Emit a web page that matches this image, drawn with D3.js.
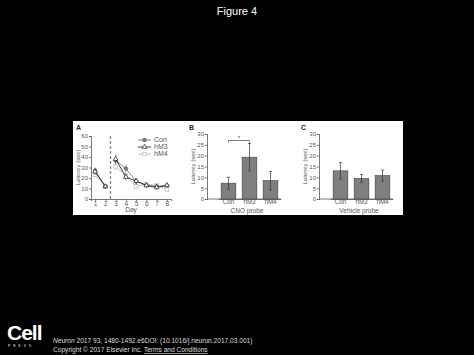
<!DOCTYPE html>
<html>
<head>
<meta charset="utf-8">
<script src="https://cdn.jsdelivr.net/npm/d3@7"></script>
<style>
  body { margin: 0; background: #000; }
  svg { display: block; font-family: 'Liberation Sans', Arial, sans-serif; }
</style>
</head>
<body>
<svg id="fig" width="474" height="355"></svg>
<script>
// panel A: latency per day
const days = [1, 2, 3, 4, 5, 6, 7, 8];
const conMean = [27, 12, 37, 29, 17, 13, 12, 13];
const conErr = [3, 1.5, 4, 4, 3, 2, 2, 2];
const hm3Mean = [26, 12, 38, 21, 17, 13, 11, 13];
const hm3Err = [3, 1.5, 4, 3, 3, 2, 2, 2];
const hm4Mean = [23, 12, 31, 22, 12, 14, 13, 9];
const hm4Err = [3, 1.5, 4, 3, 3, 2, 2, 2];
const groups = ['Con', 'hM3', 'hM4'];
// panel B / C
const cnoMean = [7.3, 19.3, 8.5];
const cnoErr = [2.7, 6.3, 4.2];
const vehMean = [13, 9.5, 10.8];
const vehErr = [3.8, 1.8, 2.5];
const yTicksA = [0, 10, 20, 30, 40, 50, 60];
const yTicksB = [0, 5, 10, 15, 20, 25, 30];

const svg = d3.select('#fig');
const ink = '#555';

svg.append('text')
  .attr('x', 237).attr('y', 15)
  .attr('text-anchor', 'middle')
  .attr('fill', '#fff')
  .attr('font-size', 11)
  .text('Figure 4');

// white figure panel
svg.append('rect')
  .attr('x', 73).attr('y', 121)
  .attr('width', 330).attr('height', 94)
  .attr('fill', '#fff');

function styleAxis(g) {
  g.selectAll('path,line').attr('stroke', ink).attr('stroke-width', 0.8);
  g.selectAll('text').attr('fill', ink).attr('font-size', 6);
}

function panelLabel(x, y, t) {
  svg.append('text')
    .attr('x', x).attr('y', y)
    .attr('font-size', 7).attr('font-weight', 'bold')
    .attr('fill', '#222')
    .text(t);
}

// ---- Panel A ----
const xA = d3.scaleLinear().domain([0.6, 8.4]).range([91, 171]);
const yA = d3.scaleLinear().domain([0, 60]).range([199, 136]);

const gA = svg.append('g');
gA.append('g')
  .attr('transform', 'translate(0,199)')
  .call(d3.axisBottom(xA).tickValues(days).tickSize(2).tickPadding(0.5).tickFormat(d3.format('d')))
  .call(styleAxis)
  .call((a) => a.selectAll('text').attr('font-size', 6.5));
gA.append('g')
  .attr('transform', 'translate(91,0)')
  .call(d3.axisLeft(yA).tickValues(yTicksA).tickSize(2).tickPadding(1))
  .call(styleAxis);

gA.append('line')
  .attr('x1', xA(2.5)).attr('x2', xA(2.5))
  .attr('y1', yA(60)).attr('y2', yA(0))
  .attr('stroke', '#888').attr('stroke-width', 1.3)
  .attr('stroke-dasharray', '3,2');

const seriesA = [
  { name: 'hM4', mean: hm4Mean, err: hm4Err, color: '#bbb', shape: 'square' },
  { name: 'Con', mean: conMean, err: conErr, color: '#777', shape: 'circle' },
  { name: 'hM3', mean: hm3Mean, err: hm3Err, color: '#222', shape: 'triangle' },
];

const line = d3.line().x((d) => xA(d.day)).y((d) => yA(d.v));

function drawMarker(g, shape, x, y, color) {
  if (shape === 'circle') {
    g.append('circle').attr('cx', x).attr('cy', y).attr('r', 1.8)
      .attr('fill', color).attr('stroke', color);
  } else if (shape === 'triangle') {
    g.append('path').attr('d', d3.symbol(d3.symbolTriangle, 10)())
      .attr('transform', `translate(${x},${y})`)
      .attr('fill', '#fff').attr('stroke', color).attr('stroke-width', 0.7);
  } else {
    g.append('rect').attr('x', x - 1.8).attr('y', y - 1.8).attr('width', 3.6).attr('height', 3.6)
      .attr('fill', '#fff').attr('stroke', color).attr('stroke-width', 0.7);
  }
}

seriesA.forEach((s) => {
  const pts = days.map((d, i) => ({ day: d, v: s.mean[i], e: s.err[i] }));
  const segs = [pts.slice(0, 2), pts.slice(2)];
  segs.forEach((seg) => {
    gA.append('path').datum(seg)
      .attr('d', line)
      .attr('fill', 'none')
      .attr('stroke', s.color)
      .attr('stroke-width', 0.9);
  });
  pts.forEach((p) => {
    gA.append('line')
      .attr('x1', xA(p.day)).attr('x2', xA(p.day))
      .attr('y1', yA(p.v - p.e)).attr('y2', yA(p.v + p.e))
      .attr('stroke', s.color).attr('stroke-width', 0.6);
    drawMarker(gA, s.shape, xA(p.day), yA(p.v), s.color);
  });
});

// legend
const legendOrder = ['Con', 'hM3', 'hM4'];
legendOrder.forEach((name, i) => {
  const s = seriesA.find((d) => d.name === name);
  const y = 140 + i * 7;
  gA.append('line').attr('x1', 138).attr('x2', 151).attr('y1', y).attr('y2', y)
    .attr('stroke', s.color).attr('stroke-width', 0.9);
  drawMarker(gA, s.shape, 144.5, y, s.color);
  gA.append('text').attr('x', 154).attr('y', y + 2.3)
    .attr('font-size', 7).attr('fill', ink).text(name);
});

gA.append('text')
  .attr('transform', `translate(80,${yA(30)}) rotate(-90)`)
  .attr('text-anchor', 'middle').attr('font-size', 6).attr('fill', ink)
  .text('Latency (sec)');
gA.append('text')
  .attr('x', xA(4.5)).attr('y', 212)
  .attr('text-anchor', 'middle').attr('font-size', 6.5).attr('fill', ink)
  .text('Day');
panelLabel(76, 130, 'A');

// ---- Bar panels ----
function barPanel(x0, means, errs, title, label) {
  const x = d3.scaleBand().domain(groups).range([x0 + 11, x0 + 74]).paddingInner(0.3).paddingOuter(0.15);
  const y = d3.scaleLinear().domain([0, 30]).range([199, 134]);
  const g = svg.append('g');
  g.append('g')
    .attr('transform', 'translate(0,199)')
    .call(d3.axisBottom(x).tickSize(0).tickPadding(0.8))
    .call(styleAxis)
    .call((a) => a.selectAll('text').attr('font-size', 6.3));
  g.append('g')
    .attr('transform', `translate(${x0},0)`)
    .call(d3.axisLeft(y).tickValues(yTicksB).tickSize(2).tickPadding(1))
    .call(styleAxis);
  g.append('line').attr('x1', x0).attr('x2', x0 + 74).attr('y1', 199).attr('y2', 199)
    .attr('stroke', ink).attr('stroke-width', 0.8);
  groups.forEach((k, i) => {
    g.append('rect')
      .attr('x', x(k)).attr('y', y(means[i]))
      .attr('width', x.bandwidth()).attr('height', y(0) - y(means[i]))
      .attr('fill', '#7f7f7f').attr('stroke', '#444').attr('stroke-width', 0.6);
    const cx = x(k) + x.bandwidth() / 2;
    g.append('line')
      .attr('x1', cx).attr('x2', cx)
      .attr('y1', y(means[i] - errs[i])).attr('y2', y(means[i] + errs[i]))
      .attr('stroke', '#333').attr('stroke-width', 0.7);
    [means[i] - errs[i], means[i] + errs[i]].forEach((v) => {
      g.append('line').attr('x1', cx - 1.5).attr('x2', cx + 1.5)
        .attr('y1', y(v)).attr('y2', y(v))
        .attr('stroke', '#333').attr('stroke-width', 0.7);
    });
  });
  g.append('text')
    .attr('transform', `translate(${x0 - 12},${y(15)}) rotate(-90)`)
    .attr('text-anchor', 'middle').attr('font-size', 6).attr('fill', ink)
    .text('Latency (sec)');
  g.append('text')
    .attr('x', x0 + 40).attr('y', 212.5)
    .attr('text-anchor', 'middle').attr('font-size', 6.5).attr('fill', ink)
    .text(title);
  panelLabel(x0 - 18, 130, label);
  return { g, x, y };
}

const pB = barPanel(207, cnoMean, cnoErr, 'CNO probe', 'B');
// significance bracket
const bx1 = pB.x('Con') + pB.x.bandwidth() / 2;
const bx2 = pB.x('hM3') + pB.x.bandwidth() / 2;
const by = pB.y(27);
pB.g.append('path')
  .attr('d', `M${bx1},${by + 2}V${by}H${bx2}V${by + 2}`)
  .attr('fill', 'none').attr('stroke', '#444').attr('stroke-width', 0.7);
pB.g.append('text')
  .attr('x', (bx1 + bx2) / 2).attr('y', by - 0.5)
  .attr('text-anchor', 'middle').attr('font-size', 6).attr('fill', '#444')
  .text('*');

barPanel(319, vehMean, vehErr, 'Vehicle probe', 'C');

// ---- footer ----
svg.append('text')
  .attr('x', 7).attr('y', 340)
  .attr('fill', '#fff').attr('font-size', 21).attr('font-weight', 'bold')
  .attr('letter-spacing', -1)
  .text('Cell');
svg.append('text')
  .attr('x', 8).attr('y', 347)
  .attr('fill', '#fff').attr('font-size', 3).attr('letter-spacing', 3.2)
  .text('PRESS');

const cite = svg.append('text')
  .attr('x', 53).attr('y', 343)
  .attr('fill', '#ddd').attr('font-size', 6.6);
cite.append('tspan').attr('font-style', 'italic').text('Neuron');
cite.append('tspan').text(' 2017 93, 1480-1492.e6DOI: (10.1016/j.neuron.2017.03.001)');

const copy = svg.append('text')
  .attr('x', 53).attr('y', 352)
  .attr('fill', '#ddd').attr('font-size', 6.6);
copy.append('tspan').text('Copyright © 2017 Elsevier Inc. ');
copy.append('tspan').attr('text-decoration', 'underline').text('Terms and Conditions');
</script>
</body>
</html>
